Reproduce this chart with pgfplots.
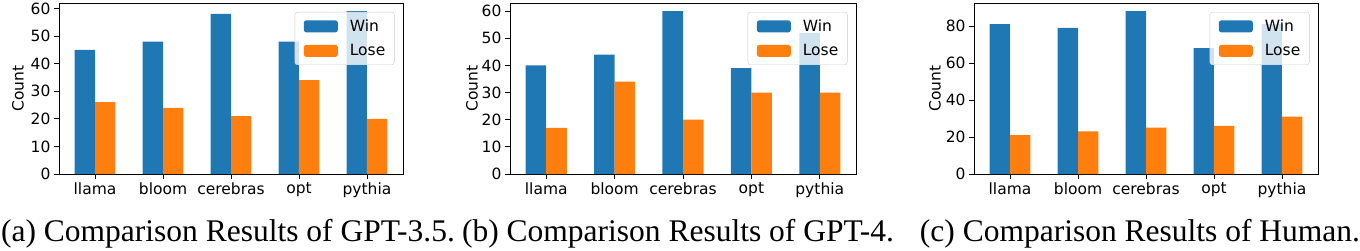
\documentclass[border=0pt]{standalone}
\usepackage{fontspec}
\setmainfont{Liberation Serif}
\setsansfont{DejaVu Sans}
\usepackage{pgfplots}
\pgfplotsset{compat=1.18}
\definecolor{tabblue}{HTML}{1F77B4}
\definecolor{taborange}{HTML}{FF7F0E}
\pgfplotsset{
  cmpstyle/.style={
    scale only axis,
    width=344pt, height=171pt,
    anchor=south west,
    xmin=-0.53, xmax=4.53, ymin=0,
    xtick={0,1,2,3,4},
    xticklabels={llama,bloom,cerebras,opt,pythia},
    xtick pos=bottom, ytick pos=left,
    tick align=outside,
    major tick length=5pt,
    every tick/.style={black, line width=0.9pt},
    axis line style={line width=0.9pt},
    /pgf/number format/assume math mode=true,
    ticklabel style={font=\sffamily\fontsize{15.5}{18}\selectfont},
    ylabel={Count},
    ybar,
    bar width=0.3,
    legend style={at={(1,1)}, xshift=-8.5pt, yshift=-9pt, anchor=north east,
      fill=white, fill opacity=0.8, text opacity=1, draw=black!20,
      rounded corners=2.5pt,
      font=\sffamily\fontsize{15.5}{18}\selectfont,
      inner xsep=9pt, inner ysep=7.5pt, row sep=11.5pt, column sep=12pt,
      nodes={inner sep=0pt}},
    legend cell align=left,
    legend image code/.code={\fill[##1, fill opacity=1, draw=none] (0pt,-6pt) rectangle (34pt,6pt);},
  }
}
\begin{document}
\begin{tikzpicture}[x=1pt,y=1pt]
\useasboundingbox (0,0) rectangle (1360,-251);

% (a)
\begin{axis}[cmpstyle, at={(59pt,-174pt)}, ymax=61.95, ytick={0,10,...,60},
  every axis y label/.style={at={(rel axis cs:0,0.5)}, rotate=90, anchor=center, yshift=41pt, font=\sffamily\fontsize{15.5}{18}\selectfont}]
\addplot[fill=tabblue, draw=none, bar shift=-0.15] coordinates {(0,45) (1,48) (2,58) (3,48) (4,59)};
\addplot[fill=taborange, draw=none, bar shift=0.15] coordinates {(0,26) (1,24) (2,21) (3,34) (4,20)};
\legend{Win,Lose}
\end{axis}

% (b)
\begin{axis}[cmpstyle, at={(510pt,-174pt)}, width=346pt, ymax=63, ytick={0,10,...,60},
  every axis y label/.style={at={(rel axis cs:0,0.5)}, rotate=90, anchor=center, yshift=38pt, font=\sffamily\fontsize{15.5}{18}\selectfont}]
\addplot[fill=tabblue, draw=none, bar shift=-0.15] coordinates {(0,40) (1,44) (2,60) (3,39) (4,52)};
\addplot[fill=taborange, draw=none, bar shift=0.15] coordinates {(0,17) (1,34) (2,20) (3,30) (4,30)};
\legend{Win,Lose}
\end{axis}

% (c)
\begin{axis}[cmpstyle, at={(974pt,-174pt)}, ymax=92.4, ytick={0,20,...,80},
  every axis y label/.style={at={(rel axis cs:0,0.5)}, rotate=90, anchor=center, yshift=39pt, font=\sffamily\fontsize{15.5}{18}\selectfont}]
\addplot[fill=tabblue, draw=none, bar shift=-0.15] coordinates {(0,81) (1,79) (2,88) (3,68) (4,81)};
\addplot[fill=taborange, draw=none, bar shift=0.15] coordinates {(0,21) (1,23) (2,25) (3,26) (4,31)};
\legend{Win,Lose}
\end{axis}

\node[anchor=base, inner sep=0pt, font=\rmfamily\fontsize{31.5}{36}\selectfont] at (228,-241) {(a) Comparison Results of GPT-3.5.};
\node[anchor=base, inner sep=0pt, font=\rmfamily\fontsize{31.5}{36}\selectfont] at (678,-241) {(b) Comparison Results of GPT-4.};
\node[anchor=base, inner sep=0pt, font=\rmfamily\fontsize{31.5}{36}\selectfont] at (1140,-241) {(c) Comparison Results of Human.};
\end{tikzpicture}
\end{document}
